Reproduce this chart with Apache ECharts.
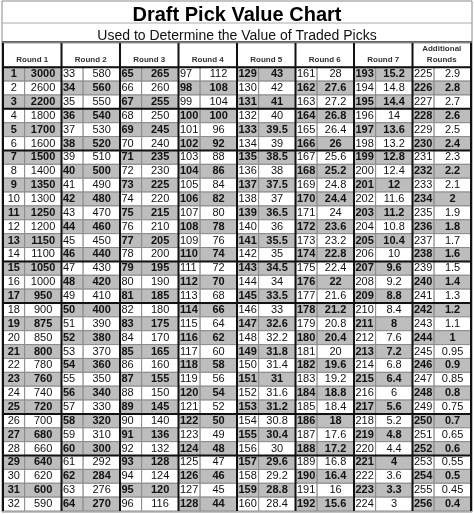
<!DOCTYPE html>
<html>
<head>
<meta charset="utf-8">
<script src="https://cdn.jsdelivr.net/npm/echarts@6/dist/echarts.min.js"></script>
<style>html,body{margin:0;padding:0;background:#fff}#main{width:474px;height:514px}</style>
</head>
<body>
<div id="main"></div>
<script>
// column headers
const roundNames = ['Round 1', 'Round 2', 'Round 3', 'Round 4', 'Round 5', 'Round 6', 'Round 7', 'Additional\nRounds']
// first pick number of every round (picks run 1..256)
const roundStart = [1, 33, 65, 97, 129, 161, 193, 225]
// values
const round1 = [3000, 2600, 2200, 1800, 1700, 1600, 1500, 1400, 1350, 1300, 1250, 1200, 1150, 1100, 1050, 1000, 950, 900, 875, 850, 800, 780, 760, 740, 720, 700, 680, 660, 640, 620, 600, 590]
const round2 = [580, 560, 550, 540, 530, 520, 510, 500, 490, 480, 470, 460, 450, 440, 430, 420, 410, 400, 390, 380, 370, 360, 350, 340, 330, 320, 310, 300, 292, 284, 276, 270]
const round3 = [265, 260, 255, 250, 245, 240, 235, 230, 225, 220, 215, 210, 205, 200, 195, 190, 185, 180, 175, 170, 165, 160, 155, 150, 145, 140, 136, 132, 128, 124, 120, 116]
const round4 = [112, 108, 104, 100, 96, 92, 88, 86, 84, 82, 80, 78, 76, 74, 72, 70, 68, 66, 64, 62, 60, 58, 56, 54, 52, 50, 49, 48, 47, 46, 45, 44]
const round5 = [43, 42, 41, 40, 39.5, 39, 38.5, 38, 37.5, 37, 36.5, 36, 35.5, 35, 34.5, 34, 33.5, 33, 32.6, 32.2, 31.8, 31.4, 31, 31.6, 31.2, 30.8, 30.4, 30, 29.6, 29.2, 28.8, 28.4]
const round6 = [28, 27.6, 27.2, 26.8, 26.4, 26, 25.6, 25.2, 24.8, 24.4, 24, 23.6, 23.2, 22.8, 22.4, 22, 21.6, 21.2, 20.8, 20.4, 20, 19.6, 19.2, 18.8, 18.4, 18, 17.6, 17.2, 16.8, 16.4, 16, 15.6]
const round7 = [15.2, 14.8, 14.4, 14, 13.6, 13.2, 12.8, 12.4, 12, 11.6, 11.2, 10.8, 10.4, 10, 9.6, 9.2, 8.8, 8.4, 8, 7.6, 7.2, 6.8, 6.4, 6, 5.6, 5.2, 4.8, 4.4, 4, 3.6, 3.3, 3]
const additional = [2.9, 2.8, 2.7, 2.6, 2.5, 2.4, 2.3, 2.2, 2.1, 2, 1.9, 1.8, 1.7, 1.6, 1.5, 1.4, 1.3, 1.2, 1.1, 1, 0.95, 0.9, 0.85, 0.8, 0.75, 0.7, 0.65, 0.6, 0.55, 0.5, 0.45, 0.4]
// rows after which a heavy rule is drawn
const breakRows = [3, 6, 14, 17, 25, 28]

const rounds = [round1, round2, round3, round4, round5, round6, round7, additional]
const PICK_W = 0.37
const HEAD = 1.75

let cells = []
rounds.forEach((vals, g) => {
  vals.forEach((v, r) => {
    cells.push([g, r, roundStart[g] + r, v])
  })
})

const font = '"Liberation Sans", Arial, sans-serif'

function cellItem (params, api) {
  const g = api.value(0)
  const r = api.value(1)
  const shaded = (g + r) % 2 === 0
  const fill = shaded ? '#bdbdbd' : '#fff'
  const weight = shaded ? 'bold' : 'normal'
  // round 1 picks sit centred, the others hug the left edge
  const pickPos = g === 0 ? 'inside' : 'insideLeft'
  const parts = [[g, g + PICK_W, api.value(2), pickPos], [g + PICK_W, g + 1, api.value(3), 'inside']]
  return {
    type: 'group',
    children: parts.map(p => {
      const a = api.coord([p[0], r])
      const b = api.coord([p[1], r + 1])
      return {
        type: 'rect',
        shape: { x: a[0], y: a[1], width: b[0] - a[0], height: b[1] - a[1] },
        style: { fill, stroke: '#8a8a8a', lineWidth: 1 },
        textContent: {
          style: { text: String(p[2]), font: weight + ' 11px ' + font, fill: '#111' }
        },
        textConfig: { position: p[3], distance: 2 }
      }
    })
  }
}

const option = {
  animation: false,
  title: [
    { text: 'Draft Pick Value Chart', left: 'center', top: 0, textStyle: { fontFamily: font, fontSize: 20, fontWeight: 'bold', color: '#000' } },
    { text: 'Used to Determine the Value of Traded Picks', left: 'center', top: 24, textStyle: { fontFamily: font, fontSize: 14, fontWeight: 'normal', color: '#111' } }
  ],
  graphic: [
    { type: 'rect', shape: { x: 2, y: 1, width: 470, height: 511 }, style: { fill: 'none', stroke: '#888', lineWidth: 1 } },
    { type: 'line', shape: { x1: 2, y1: 23, x2: 472, y2: 23 }, style: { stroke: '#aaa', lineWidth: 1 } },
    { type: 'line', shape: { x1: 2, y1: 42, x2: 472, y2: 42 }, style: { stroke: '#333', lineWidth: 1.5 } }
  ],
  grid: { left: 3, right: 3, top: 43, bottom: 3 },
  xAxis: { type: 'value', min: 0, max: 8, show: false },
  yAxis: { type: 'value', min: -HEAD, max: 32, inverse: true, show: false },
  series: [
    {
      type: 'custom',
      data: roundNames.map((n, g) => [g, n]),
      renderItem (params, api) {
        const g = api.value(0)
        const a = api.coord([g, -HEAD])
        const b = api.coord([g + 1, 0])
        return {
          type: 'rect',
          shape: { x: a[0], y: a[1], width: b[0] - a[0], height: b[1] - a[1] },
          style: { fill: '#fff', stroke: '#999', lineWidth: 1 },
          textContent: { style: { text: roundNames[g], font: 'bold 8px ' + font, fill: '#333', align: 'center', lineHeight: 11 } },
          textConfig: { position: 'insideBottom', distance: 2 }
        }
      }
    },
    { type: 'custom', data: cells, renderItem: cellItem },
    {
      type: 'custom',
      data: breakRows.map(r => [r]),
      renderItem (params, api) {
        const a = api.coord([0, api.value(0)])
        const b = api.coord([8, api.value(0)])
        return { type: 'line', shape: { x1: a[0], y1: a[1], x2: b[0], y2: b[1] }, style: { stroke: '#111', lineWidth: 2 } }
      }
    },
    {
      type: 'custom',
      data: [[0], [1], [2], [3], [4], [5], [6], [7], [8]],
      renderItem (params, api) {
        const a = api.coord([api.value(0), -HEAD])
        const b = api.coord([api.value(0), 32])
        return { type: 'line', shape: { x1: a[0], y1: a[1], x2: b[0], y2: b[1] }, style: { stroke: '#111', lineWidth: 2 } }
      }
    },
    {
      type: 'custom',
      data: [[0]],
      renderItem (params, api) {
        const a = api.coord([0, 0])
        const b = api.coord([8, 0])
        return { type: 'line', shape: { x1: a[0], y1: a[1], x2: b[0], y2: b[1] }, style: { stroke: '#111', lineWidth: 2 } }
      }
    }
  ]
}

echarts.init(document.getElementById('main')).setOption(option)
</script>
</body>
</html>
